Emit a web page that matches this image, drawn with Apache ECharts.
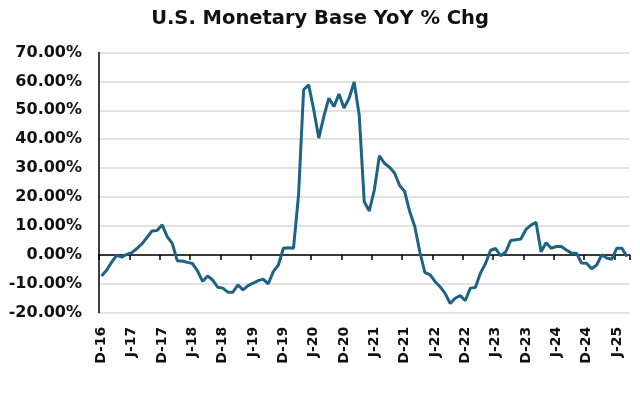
<!DOCTYPE html>
<html>
<head>
<meta charset="utf-8">
<script src="https://cdn.jsdelivr.net/npm/echarts@6/dist/echarts.min.js"></script>
<style>html,body{margin:0;padding:0;background:#fff}#c{width:640px;height:393px}</style>
</head>
<body>
<div id="c"></div>
<script>
var categories = [
  'D-16',
  'J-17','F-17','M-17','A-17','M-17','J-17','J-17','A-17','S-17','O-17','N-17','D-17',
  'J-18','F-18','M-18','A-18','M-18','J-18','J-18','A-18','S-18','O-18','N-18','D-18',
  'J-19','F-19','M-19','A-19','M-19','J-19','J-19','A-19','S-19','O-19','N-19','D-19',
  'J-20','F-20','M-20','A-20','M-20','J-20','J-20','A-20','S-20','O-20','N-20','D-20',
  'J-21','F-21','M-21','A-21','M-21','J-21','J-21','A-21','S-21','O-21','N-21','D-21',
  'J-22','F-22','M-22','A-22','M-22','J-22','J-22','A-22','S-22','O-22','N-22','D-22',
  'J-23','F-23','M-23','A-23','M-23','J-23','J-23','A-23','S-23','O-23','N-23','D-23',
  'J-24','F-24','M-24','A-24','M-24','J-24','J-24','A-24','S-24','O-24','N-24','D-24',
  'J-25','F-25','M-25','A-25','M-25','J-25','J-25','A-25'
];
var yoyValues = [
  -7.3,
  -5.3, -2.5, -0.2, -0.8, 0.2, 0.8, 2.2, 3.8, 6.0, 8.3, 8.4, 10.4,
  6.3, 4.0, -2.1, -2.1, -2.6, -3.0, -5.5, -9.2, -7.3, -8.7, -11.2, -11.5,
  -12.9, -12.9, -10.4, -12.1, -10.6, -9.8, -8.9, -8.4, -10.0, -5.8, -3.5, 2.3,
  2.5, 2.3, 20.8, 57.1, 58.8, 50.2, 40.4, 47.9, 54.2, 51.3, 55.6, 50.8,
  54.2, 59.8, 48.4, 18.4, 15.2, 22.5, 34.3, 31.7, 30.3, 28.3, 24.0, 21.9,
  15.0, 9.8, 1.0, -6.1, -6.8, -9.2, -11.0, -13.3, -16.8, -15.0, -14.1, -15.8,
  -11.5, -11.3, -6.3, -3.0, 1.6, 2.2, -0.3, 1.0, 5.0, 5.2, 5.5, 8.8,
  10.3, 11.3, 1.1, 4.2, 2.3, 2.9, 2.9, 1.7, 0.6, 0.6, -2.8, -2.9,
  -4.8, -3.5, 0.0, -1.1, -1.5, 2.3, 2.3, -0.6
];
var yMin = -20, yMax = 70, yStep = 10;
var titleText = 'U.S. Monetary Base YoY % Chg';

var chart = echarts.init(document.getElementById('c'), null, {renderer: 'canvas'});
var font = 'DejaVu Sans';
chart.setOption({
  animation: false,
  backgroundColor: '#fff',
  title: {
    text: titleText,
    left: 'center',
    top: 4,
    textStyle: {fontFamily: font, fontSize: 19.5, fontWeight: 'bold', color: '#111'}
  },
  grid: {left: 99, right: 10.5, top: 52.5, bottom: 80.3},
  xAxis: [
    {
      type: 'category',
      data: categories,
      boundaryGap: true,
      position: 'bottom',
      axisLine: {show: true, onZero: true, lineStyle: {color: '#000', width: 1.5}},
      axisTick: {show: true, interval: 5, length: 5, lineStyle: {color: '#000', width: 1.5}},
      axisLabel: {show: false},
      splitLine: {show: false}
    },
    {
      type: 'category',
      data: categories,
      boundaryGap: true,
      position: 'bottom',
      axisLine: {show: false, onZero: false},
      axisTick: {show: false},
      axisLabel: {
        interval: 5, rotate: 90, margin: 14,
        fontFamily: font, fontSize: 14, fontWeight: 'bold', color: '#111'
      },
      splitLine: {show: false}
    }
  ],
  yAxis: {
    type: 'value',
    min: yMin, max: yMax, interval: yStep,
    axisLine: {show: true, lineStyle: {color: '#000', width: 1.5}},
    axisTick: {show: false},
    splitLine: {show: true, lineStyle: {color: '#d9d9d9', width: 1.5}},
    axisLabel: {
      margin: 17,
      fontFamily: font, fontSize: 16, fontWeight: 'bold', color: '#111',
      formatter: function (v) { return v.toFixed(2) + '%'; }
    }
  },
  series: [{
    type: 'line',
    xAxisIndex: 0,
    data: yoyValues,
    symbol: 'none',
    lineStyle: {color: '#1f6384', width: 3},
    itemStyle: {color: '#1f6384'},
    z: 1
  }]
});
</script>
</body>
</html>
